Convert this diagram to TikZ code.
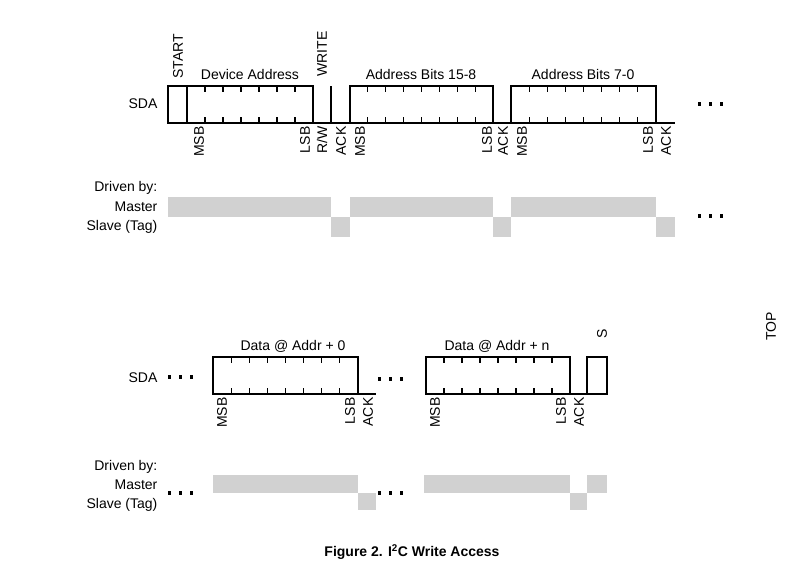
\documentclass[tikz,border=0pt]{standalone}
\usepackage{fontspec}
\setmainfont{Liberation Sans}
\begin{document}
\begin{tikzpicture}[x=1pt,y=-1pt,line width=1.2pt,
  lbl/.style={font=\fontsize{14}{16}\selectfont,inner sep=0pt},
  rl/.style={lbl,rotate=90,anchor=east},
  tl/.style={lbl,rotate=90,anchor=west},
  mbar/.style={fill=black!18,draw=none}]
\useasboundingbox (0,0) rectangle (792,578);
\newcommand\bbox[5]{% x1 x2 ncells ytop ybot
  \draw (#1,#5) rectangle (#2,#4);
  \pgfmathsetmacro\cw{(#2-#1)/#3}
  \foreach \i in {1,...,\numexpr#3-1\relax}{
    \draw (#1+\i*\cw,#4) -- ++(0,6);
    \draw (#1+\i*\cw,#5) -- ++(0,-6);}}
\newcommand\tdots[2]{\foreach \k in {0,1,2}{\fill (#1+\k*11,#2-1.6) rectangle ++(3.4,3.4);}}
% ---------- top SDA ----------
\node[lbl,anchor=east] at (158,104) {SDA};
\draw (168,86) rectangle (187,123);
\bbox{187}{313}{7}{86}{123}
\draw (313,123) -- (350,123);
\draw (331,86) -- (331,123);
\bbox{350}{493}{8}{86}{123}
\draw (493,123) -- (511,123);
\bbox{511}{656}{8}{86}{123}
\draw (656,123) -- (675,123);
\tdots{698}{104}
\node[tl] at (178,79) {START};
\node[tl] at (322,77) {WRITE};
\node[lbl,anchor=base] at (250,80) {Device Address};
\node[lbl,anchor=base] at (421,80) {Address Bits 15-8};
\node[lbl,anchor=base] at (583,80) {Address Bits 7-0};
\foreach \x/\t in {199/MSB,305/LSB,322/{R/W},341/ACK,360/MSB,487/LSB,503/ACK,522/MSB,648/LSB,666/ACK}
  \node[rl] at (\x,126) {\t};
% drive
\node[lbl,anchor=east] at (158,188) {Driven by:};
\node[lbl,anchor=east] at (158,207) {Master};
\node[lbl,anchor=east] at (158,227) {Slave (Tag)};
\foreach \a/\b in {168/331,350/493,511/656} \fill[mbar] (\a,197) rectangle (\b,217);
\foreach \a/\b in {331/350,493/511,656/675} \fill[mbar] (\a,217) rectangle (\b,237);
\tdots{698}{216}
% ---------- bottom SDA ----------
\node[lbl,anchor=east] at (158,378) {SDA};
\tdots{168}{377}
\bbox{213}{358}{8}{357}{394}
\draw (358,394) -- (376,394);
\tdots{378}{379}
\bbox{426}{570}{8}{357}{394}
\draw (570,394) -- (587,394);
\draw (587,357) rectangle (607,394);
\node[lbl,anchor=base] at (293,350) {Data @ Addr + 0};
\node[lbl,anchor=base] at (497,350) {Data @ Addr + n};
\node[tl] at (602,339) {S};
\foreach \x/\t in {222/MSB,350/LSB,368/ACK,435/MSB,561/LSB,579/ACK}
  \node[rl] at (\x,397) {\t};
\node[lbl,anchor=east] at (158,467) {Driven by:};
\node[lbl,anchor=east] at (158,485) {Master};
\node[lbl,anchor=east] at (158,505) {Slave (Tag)};
\tdots{168}{493}
\tdots{378}{493}
\foreach \a/\b in {213/358,424/570,587/607} \fill[mbar] (\a,475) rectangle (\b,493);
\foreach \a/\b in {358/376,570/587} \fill[mbar] (\a,493) rectangle (\b,510);
\node[tl] at (771,341) {TOP};
\node[lbl,font=\fontsize{14}{16}\selectfont\bfseries] at (412,552) {Figure 2. I\textsuperscript{2}C Write Access};
\end{tikzpicture}
\end{document}
